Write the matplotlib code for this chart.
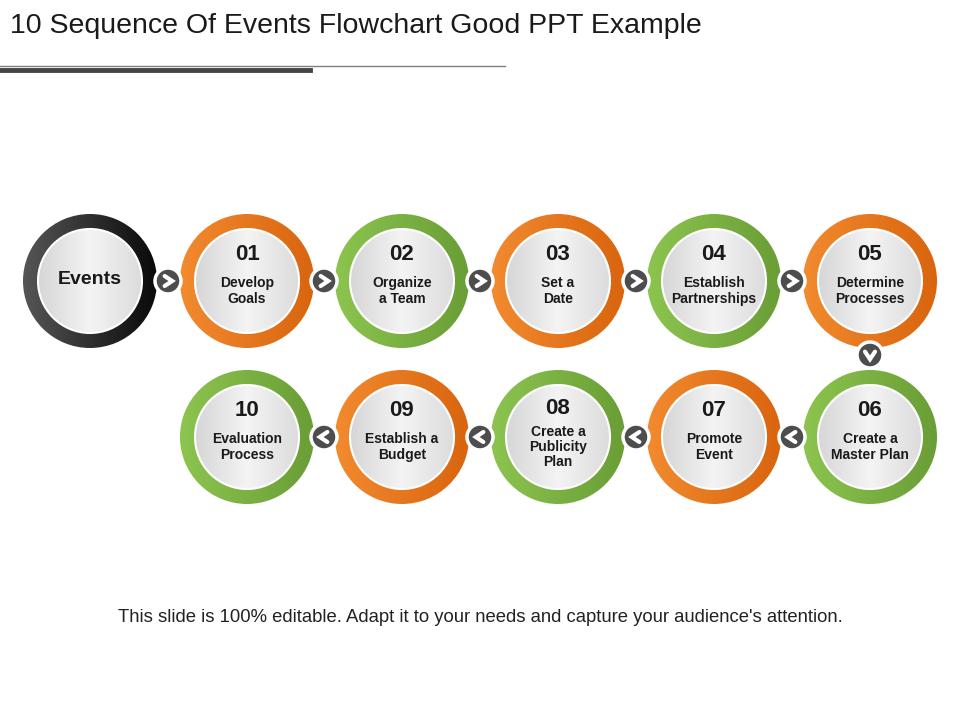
import numpy as np
import matplotlib.pyplot as plt
from matplotlib.patches import Circle, Wedge
from matplotlib.colors import LinearSegmentedColormap

plt.rcParams["font.family"] = "Liberation Sans"

# step numbers, labels and ring colours (row 1 left->right, row 2 right->left)
numbers = ["01", "02", "03", "04", "05", "06", "07", "08", "09", "10"]
labels = ["Develop\nGoals", "Organize\na Team", "Set a\nDate", "Establish\nPartnerships",
          "Determine\nProcesses", "Create a\nMaster Plan", "Promote\nEvent",
          "Create a\nPublicity\nPlan", "Establish a\nBudget", "Evaluation\nProcess"]
ring = ["orange", "green", "orange", "green", "orange",
        "green", "orange", "green", "orange", "green"]

grads = {
    "orange": ["#f28a2e", "#d9650f"],
    "green": ["#8cc44f", "#6a9e36"],
    "black": ["#555555", "#0a0a0a"],
}

fig = plt.figure(figsize=(9.6, 7.2), dpi=100)
ax = fig.add_axes([0, 0, 1, 1])
ax.set_xlim(0, 960)
ax.set_ylim(720, 0)
ax.axis("off")

R_OUT, R_IN = 67, 52


def grad_disc(cx, cy, r, cols, clip, z):
    cmap = LinearSegmentedColormap.from_list("g", cols)
    g = np.linspace(0, 1, 64).reshape(1, -1)
    im = ax.imshow(g, cmap=cmap, extent=(cx - r, cx + r, cy + r, cy - r),
                   zorder=z, interpolation="bilinear")
    im.set_clip_path(clip)


def node(cx, cy, kind):
    rp = Wedge((cx, cy), R_OUT, 0, 360, width=R_OUT - R_IN, transform=ax.transData,
               facecolor="none", edgecolor="none")
    ax.add_patch(rp)
    grad_disc(cx, cy, R_OUT, grads[kind], rp, 2)
    ip = Circle((cx, cy), R_IN, facecolor="none", edgecolor="none")
    ax.add_patch(ip)
    grad_disc(cx, cy, R_IN, ["#d6d6d6", "#f4f4f4", "#dcdcdc"], ip, 3)
    ax.add_patch(Circle((cx, cy), R_IN, facecolor="none", edgecolor="white", lw=1.5, zorder=4))


def arrow(cx, cy, direction):
    ax.add_patch(Circle((cx, cy), 13, facecolor="#4d4d4d", edgecolor="white", lw=2.5, zorder=6))
    dx, dy = {"right": (1, 0), "left": (-1, 0), "down": (0, 1)}[direction]
    px, py = -dy, dx
    s = 5
    xs = [cx - dx * s / 1.5 + px * s, cx + dx * s / 1.2, cx - dx * s / 1.5 - px * s]
    ys = [cy - dy * s / 1.5 + py * s, cy + dy * s / 1.2, cy - dy * s / 1.5 - py * s]
    ax.plot(xs, ys, color="white", lw=3, solid_capstyle="round",
            solid_joinstyle="miter", zorder=7)


xs = [247, 402, 558, 714, 870]
y1, y2 = 281, 437

node(90, y1, "black")
ax.text(90, y1 - 2, "Events", ha="center", va="center", fontsize=14,
        fontweight="bold", color="#1a1a1a", zorder=8)

pos = [(x, y1) for x in xs] + [(x, y2) for x in xs[::-1]]
for (cx, cy), num, lab, k in zip(pos, numbers, labels, ring):
    node(cx, cy, k)
    nl = lab.count("\n") + 1
    ny = cy - 26 if nl < 3 else cy - 29
    ax.text(cx, ny, num, ha="center", va="center", fontsize=16,
            fontweight="bold", color="#1a1a1a", zorder=8)
    ax.text(cx, cy + 10, lab, ha="center", va="center",
            fontsize=10, fontweight="bold", color="#1a1a1a", linespacing=1.1, zorder=8)

for x in [168, 324, 480, 636, 792]:
    arrow(x, y1, "right")
arrow(870, 355, "down")
for x in [324, 480, 636, 792]:
    arrow(x, y2, "left")

ax.text(10, 26, "10 Sequence Of Events Flowchart Good PPT Example", ha="left",
        va="center", fontsize=20.5, color="#1a1a1a")
ax.plot([0, 505], [66, 66], color="#7f7f7f", lw=1)
ax.plot([0, 310], [69.5, 69.5], color="#444444", lw=3.5)

ax.text(480, 618, "This slide is 100% editable. Adapt it to your needs and capture your audience's attention.",
        ha="center", va="center", fontsize=13.3, color="#222222")

fig.savefig("out.png", dpi=100)
